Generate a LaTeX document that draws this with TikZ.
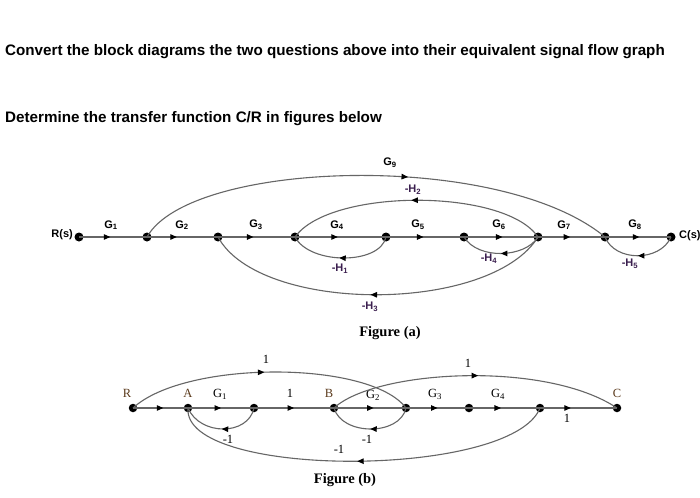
\documentclass[tikz,border=0pt]{standalone}
\usepackage{fontspec}
\setmainfont{Liberation Serif}
\setsansfont{Liberation Sans}
\usetikzlibrary{arrows.meta,decorations.markings}
\definecolor{linegray}{HTML}{666666}
\definecolor{hpurple}{HTML}{3B1F4F}
\definecolor{lblbrown}{HTML}{5B3A1C}
\tikzset{
  dot/.style={circle,fill=black,inner sep=0pt,minimum size=9pt},
  dotb/.style={circle,fill=black,inner sep=0pt,minimum size=8.5pt},
  wire/.style={draw=linegray,line width=1.1pt},
  midarrow/.style={postaction={decorate},decoration={markings,
     mark=at position #1 with {\arrow[black]{Triangle[length=6.5pt,width=5.5pt]}}}},
  midarrow/.default=0.5,
  alab/.style={font=\sffamily\bfseries\fontsize{11}{13}\selectfont,inner sep=0pt},
  hlab/.style={alab,text=hpurple},
  blab/.style={font=\fontsize{12.5}{14}\selectfont,inner sep=0pt},
  brlab/.style={blab,text=lblbrown},
  title/.style={font=\sffamily\bfseries\fontsize{15.2}{18}\selectfont,inner sep=0pt,anchor=west},
  figlab/.style={font=\bfseries\fontsize{14.5}{16}\selectfont,inner sep=0pt}
}
\begin{document}
\begin{tikzpicture}[x=1pt,y=-1pt]
\useasboundingbox[fill=white] (0,0) rectangle (700,497);
% titles
\node[title] (t1) at (5,52) {Convert the block diagrams the two questions above into their equivalent signal flow graph};
\node[title] (t2) at (5,119) {Determine the transfer function C/R in figures below};
% ---------- Figure (a) ----------
\node[dot] (ra) at (79,237) {};
\node[dot] (a1) at (147,237) {};
\node[dot] (a2) at (218,237) {};
\node[dot] (a3) at (295,237) {};
\node[dot] (a4) at (386,237) {};
\node[dot] (a5) at (464,237) {};
\node[dot] (a6) at (538,237) {};
\node[dot] (a7) at (605,237) {};
\node[dot] (ca) at (671,237) {};
\node[alab,anchor=east] (lRs) at (73,235) {R(s)};
\node[alab,anchor=west] (lCs) at (679,236) {C(s)};
\draw[wire,midarrow=0.46] (ra.center) -- (a1.center);
\draw[wire,midarrow=0.42] (a1.center) -- (a2.center);
\draw[wire,midarrow=0.46] (a2.center) -- (a3.center);
\draw[wire,midarrow=0.47] (a3.center) -- (a4.center);
\draw[wire,midarrow=0.48] (a4.center) -- (a5.center);
\draw[wire,midarrow=0.52] (a5.center) -- (a6.center);
\draw[wire,midarrow=0.48] (a6.center) -- (a7.center);
\draw[wire,midarrow=0.52] (a7.center) -- (ca.center);
\node[alab] (lG1) at (111,225) {G\textsubscript{1}};
\node[alab] (lG2) at (182,225) {G\textsubscript{2}};
\node[alab] (lG3) at (256,225) {G\textsubscript{3}};
\node[alab] (lG4) at (337,225) {G\textsubscript{4}};
\node[alab] (lG5) at (418,225) {G\textsubscript{5}};
\node[alab] (lG6) at (499,225) {G\textsubscript{6}};
\node[alab] (lG7) at (564,225) {G\textsubscript{7}};
\node[alab] (lG8) at (635,225) {G\textsubscript{8}};
% G9
\draw[wire,midarrow=0.57] (a1.center) .. controls (190,160) and (500,150) .. (a7.center);
\node[alab] (lG9) at (390,163) {G\textsubscript{9}};
% -H2
\draw[wire,midarrow=0.52] (a6.center) .. controls (505,188) and (330,188) .. (a3.center);
\node[hlab] (lH2) at (413,190) {-H\textsubscript{2}};
% -H1
\draw[wire,midarrow=0.52] (a4.center) .. controls (380,265) and (310,265) .. (a3.center);
\node[hlab] (lH1) at (340,269) {-H\textsubscript{1}};
% -H3
\draw[wire,midarrow=0.52] (a6.center) .. controls (490,314) and (260,314) .. (a2.center);
\node[hlab] (lH3) at (370,307) {-H\textsubscript{3}};
% -H4
\draw[wire,midarrow=0.5] (a6.center) .. controls (525,258) and (478,260) .. (a5.center);
\node[hlab] (lH4) at (489,259) {-H\textsubscript{4}};
% -H5
\draw[wire,midarrow=0.5] (ca.center) .. controls (660,262) and (615,262) .. (a7.center);
\node[hlab] (lH5) at (630,264) {-H\textsubscript{5}};
\node[figlab] (figa) at (390,333) {Figure (a)};
% ---------- Figure (b) ----------
\node[dotb] (rb) at (133,408) {};
\node[dotb] (bA) at (188,408) {};
\node[dotb] (b1) at (254,408) {};
\node[dotb] (bB) at (334,408) {};
\node[dotb] (b2) at (406,408) {};
\node[dotb] (b3) at (469,408) {};
\node[dotb] (b4) at (540,408) {};
\node[dotb] (cb) at (617,408) {};
\draw[wire,midarrow=0.55] (rb.center) -- (bA.center);
\draw[wire,midarrow=0.5] (bA.center) -- (b1.center);
\draw[wire,midarrow=0.5] (b1.center) -- (bB.center);
\draw[wire,midarrow=0.55] (bB.center) -- (b2.center);
\draw[wire,midarrow=0.5] (b2.center) -- (b3.center);
\draw[wire,midarrow=0.45] (b3.center) -- (b4.center);
\draw[wire,midarrow=0.4] (b4.center) -- (cb.center);
\node[brlab] (lR) at (127,393) {R};
\node[brlab] (lA) at (188,393) {A};
\node[brlab] (lB) at (329,393) {B};
\node[brlab] (lC) at (617,393) {C};
\node[blab] (lbG1) at (220,394) {G\textsubscript{1}};
\node[blab] (lb1) at (290,393) {1};
\node[blab] (lbG2) at (373,395) {G\textsubscript{2}};
\node[blab] (lbG3) at (435,394) {G\textsubscript{3}};
\node[blab] (lbG4) at (498,394) {G\textsubscript{4}};
\node[blab] (lb1c) at (567,418) {1};
% top arcs
\draw[wire,midarrow=0.48] (rb.center) .. controls (185,360) and (370,360) .. (b2.center);
\node[blab] (lt1) at (266,359) {1};
\draw[wire,midarrow=0.51] (bB.center) .. controls (375,370) and (545,360) .. (cb.center);
\node[blab] (lt2) at (468,363) {1};
% loops
\draw[wire,midarrow=0.5] (b1.center) .. controls (248,436) and (200,436) .. (bA.center);
\node[blab] (lm1) at (228,439) {-1};
\draw[wire,midarrow=0.5] (b2.center) .. controls (400,436) and (342,436) .. (bB.center);
\node[blab] (lm2) at (367,439) {-1};
\draw[wire,midarrow=0.51] (b4.center) .. controls (512,479) and (182,479) .. (bA.center);
\node[blab] (lm3) at (339,449) {-1};
\node[figlab] (figb) at (345,480) {Figure (b)};
\end{tikzpicture}
\end{document}
